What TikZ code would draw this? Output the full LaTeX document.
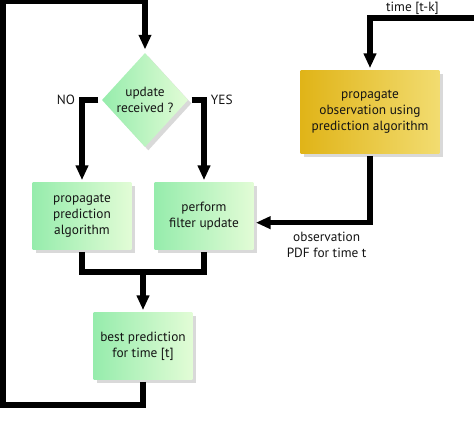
\documentclass[tikz,border=0pt]{standalone}
\usepackage{fontspec}
\setsansfont{PT Sans}
\usepackage{tikz}
\usetikzlibrary{arrows.meta,positioning,shapes.geometric,shadows}

\definecolor{mintL}{RGB}{150,236,172}
\definecolor{mintR}{RGB}{226,252,214}
\definecolor{goldL}{RGB}{224,180,24}
\definecolor{goldR}{RGB}{242,220,112}
\definecolor{ink}{RGB}{20,20,20}

\begin{document}
\begin{tikzpicture}[
    x=0.75pt, y=-0.75pt,
    >={Triangle[length=11pt,width=9pt]},
    line width=3.8pt,
    font=\sffamily,
    proc/.style={
		rectangle,
		draw=none,
		left color=mintL,
		right color=mintR,
		text=ink,
		align=center,
		minimum width=74pt,
		minimum height=50pt,
		drop shadow={opacity=0.3, shadow xshift=2.5pt, shadow yshift=-2.5pt}
	},
    obsproc/.style={
		proc,
		left color=goldL,
		right color=goldR,
		minimum width=104pt,
		minimum height=62pt
	},
    decision/.style={
		diamond,
		draw=none,
		left color=mintL,
		right color=mintR,
		text=ink,
		align=center,
		inner sep=0pt,
		minimum width=66pt,
		minimum height=72pt,
		drop shadow={opacity=0.3, shadow xshift=2.5pt, shadow yshift=-2.5pt}
	},
	lbl/.style={
		text=ink
	}
  ]
  \useasboundingbox (0,0) rectangle (474,428);

    % blocks
  \node [decision] (upd) at (145,100) {update\\received ?};
  \node [proc] (prop) at (82,216) {propagate\\prediction\\algorithm};
  \node [proc] (filt) at (204,216) {perform\\filter update};
  \node [proc] (best) at (143,346) {best prediction\\for time [t]};
  \node [obsproc] (obs) at (370,112) {propagate\\observation using\\prediction algorithm};

    % helper points of the loop and the input
  \coordinate (join) at (143,272);
  \coordinate (lpbl) at (3,405);
  \coordinate (lptl) at (3,1);
  \coordinate (tin) at (476,18);

  \draw [draw,->] (upd.west) -| node [lbl, left] {NO} (prop.north);
  \draw [draw,->] (upd.east) -| node [lbl, right] {YES} (filt.north);
  \draw [draw] (prop.south) |- (join) -| (filt.south);
  \draw [draw,->] (join) -- (best.north);
  \draw [draw,->] (best.south) |- (lpbl) -- (lptl) -| (upd.north);
  \draw [draw,->] (tin) -| node [lbl, pos=0.3, above, inner sep=0.5pt] {time [t-k]} (obs.north);
  \draw [draw,->] (obs.south) |- node [lbl, pos=0.69, below, align=center, yshift=-2pt] {observation\\PDF for time t} ([yshift=-5pt]filt.east);

\end{tikzpicture}
\end{document}
